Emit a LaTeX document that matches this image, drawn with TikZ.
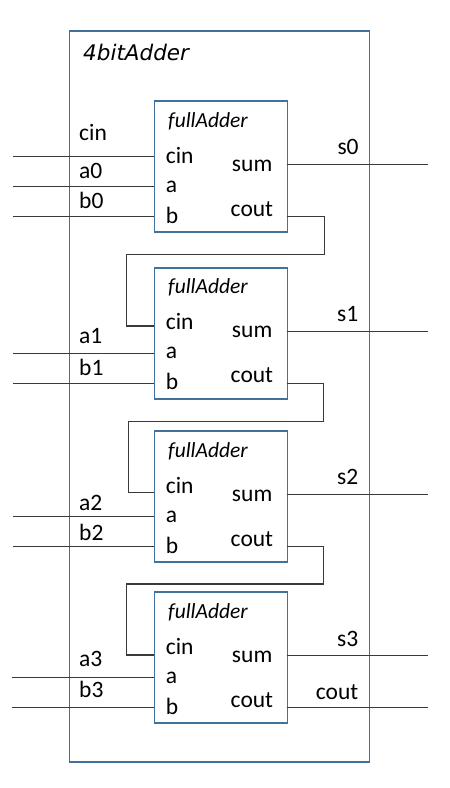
\documentclass[tikz,border=0pt]{standalone}
\usepackage{fontspec}
\setmainfont{Carlito}
\newfontfamily\titlefont{DejaVu Sans}
\usetikzlibrary{calc}
\definecolor{boxblue}{HTML}{41719C}
\definecolor{wire}{HTML}{3A3A3A}
\begin{document}
\begin{tikzpicture}[x=1pt,y=-1pt,
  fabox/.style={draw=boxblue,line width=1.8pt,rectangle,minimum width=133pt,minimum height=131pt,anchor=north west,inner sep=0pt},
  wireline/.style={draw=wire,line width=1.2pt},
  lbl/.style={inner sep=0pt,font=\fontsize{23.5}{28}\selectfont},
  lleft/.style={lbl,anchor=base west},
  lright/.style={lbl,anchor=base east},
  fatitle/.style={inner sep=0pt,anchor=base west,font=\fontsize{21.5}{26}\selectfont\itshape},
  ttl/.style={inner sep=0pt,anchor=base west,font=\fontsize{21.5}{26}\selectfont\titlefont\itshape}]
\useasboundingbox (0,0) rectangle (450,788);
\fill[white] (0,0) rectangle (450,788);
% outer box
\node[draw=boxblue,line width=1.8pt,rectangle,minimum width=300pt,minimum height=731pt,anchor=north west,inner sep=0pt] (top) at (68.5,30) {};
\node[ttl] (ttl) at (83,60) {4bitAdder};
% full adders
\node[fabox] (fa0) at (153.5,100) {};
\node[fabox] (fa1) at (153.5,266.7) {};
\node[fabox] (fa2) at (153.5,430) {};
\node[fabox] (fa3) at (153.5,591) {};
% inside labels
\foreach \i/\T in {0/100,1/266.7,2/430,3/591}{
  \node[fatitle] (fat\i) at (168,\T+27) {fullAdder};
  \node[lleft] (fcin\i) at (165.7,\T+63) {cin};
  \node[lleft] (fa\i l) at (165.7,\T+92) {a};
  \node[lleft] (fb\i l) at (165.7,\T+123) {b};
  \node[lright] (fsum\i) at (272.5,\T+71) {sum};
  \node[lright] (fcout\i) at (273.3,\T+116) {cout};
}
% pin coordinates
\coordinate (p0cin) at (153.5,156.7);
\coordinate (p0a) at (153.5,186.5);
\coordinate (p0b) at (153.5,216.7);
\coordinate (p0sum) at (286.5,164.5);
\coordinate (p0cout) at (286.5,216.7);
\coordinate (p1cin) at (153.5,326);
\coordinate (p1a) at (153.5,353.2);
\coordinate (p1b) at (153.5,383.4);
\coordinate (p1sum) at (286.5,331.2);
\coordinate (p1cout) at (286.5,383.4);
\coordinate (p2cin) at (153.5,492.3);
\coordinate (p2a) at (153.5,516.5);
\coordinate (p2b) at (153.5,546.7);
\coordinate (p2sum) at (286.5,494.5);
\coordinate (p2cout) at (286.5,546.7);
\coordinate (p3cin) at (153.5,655);
\coordinate (p3a) at (153.5,677.5);
\coordinate (p3b) at (153.5,707.7);
\coordinate (p3sum) at (286.5,655.5);
\coordinate (p3cout) at (286.5,707.7);
% free ends
\coordinate (i0cin) at (13,156.7);
\coordinate (i0a) at (13,186.5);
\coordinate (i0b) at (13,216.7);
\coordinate (o0) at (428,164.5);
\coordinate (i1a) at (13,353.2);
\coordinate (i1b) at (13,383.4);
\coordinate (o1) at (428,331.2);
\coordinate (i2a) at (13,516.5);
\coordinate (i2b) at (13,546.7);
\coordinate (o2) at (428,494.5);
\coordinate (i3a) at (12,677.5);
\coordinate (i3b) at (12,707.7);
\coordinate (o3) at (428,655.5);
\coordinate (o4) at (428,707.7);
% carry bends
\coordinate (c0r) at (324.3,254.3);
\coordinate (c0l) at (126.7,254.3);
\coordinate (c1r) at (323.3,421.7);
\coordinate (c1l) at (128.7,421.7);
\coordinate (c2r) at (323.3,584);
\coordinate (c2l) at (126.7,584);
% wires
\draw[wireline] (i0cin) -- (p0cin);
\draw[wireline] (i0a) -- (p0a);
\draw[wireline] (i0b) -- (p0b);
\draw[wireline] (p0sum) -- (o0);
\draw[wireline] (i1a) -- (p1a);
\draw[wireline] (i1b) -- (p1b);
\draw[wireline] (p1sum) -- (o1);
\draw[wireline] (i2a) -- (p2a);
\draw[wireline] (i2b) -- (p2b);
\draw[wireline] (p2sum) -- (o2);
\draw[wireline] (i3a) -- (p3a);
\draw[wireline] (i3b) -- (p3b);
\draw[wireline] (p3sum) -- (o3);
\draw[wireline] (p3cout) -- (o4);
\draw[wireline] (p0cout) -| (c0r) -- (c0l) |- (p1cin);
\draw[wireline] (p1cout) -| (c1r) -- (c1l) |- (p2cin);
\draw[wireline] (p2cout) -| (c2r) -- (c2l) |- (p3cin);
% outer labels
\node[lleft] (lcin) at (79,140.7) {cin};
\node[lleft] (la0) at (79,178) {a0};
\node[lleft] (lb0) at (79,208) {b0};
\node[lleft] (la1) at (79,343.3) {a1};
\node[lleft] (lb1) at (79,375) {b1};
\node[lleft] (la2) at (79,510) {a2};
\node[lleft] (lb2) at (79,540.7) {b2};
\node[lleft] (la3) at (79,666) {a3};
\node[lleft] (lb3) at (79,697.3) {b3};
\node[lright] (ls0) at (358.8,154) {s0};
\node[lright] (ls1) at (358.5,321.7) {s1};
\node[lright] (ls2) at (358.5,484) {s2};
\node[lright] (ls3) at (358.5,646) {s3};
\node[lright] (lcout) at (358.5,699.3) {cout};
\end{tikzpicture}
\end{document}
